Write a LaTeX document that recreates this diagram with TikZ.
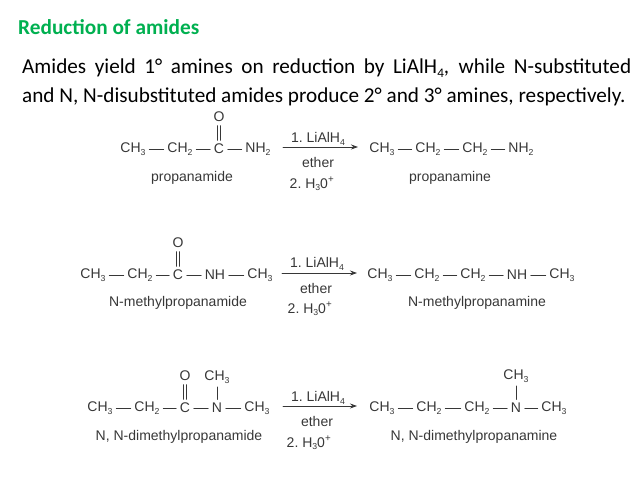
\documentclass[tikz,border=0pt]{standalone}
\usepackage{fontspec}
\usetikzlibrary{arrows.meta}
\setmainfont{Carlito}
\newfontfamily\chemfont{Liberation Sans}
\definecolor{headgreen}{RGB}{0,176,80}
\definecolor{chemgray}{RGB}{55,55,55}
\newcommand{\sbs}[1]{\raisebox{-0.35ex}{\scalebox{0.62}{#1}}}
\tikzset{
	chem/.style={font=\chemfont\fontsize{14}{16}\selectfont\frenchspacing, text=chemgray, inner sep=3.5pt, yshift=-1pt},
	bond/.style={draw=chemgray, line width=0.7pt},
	dbleft/.style={bond, transform canvas={xshift=-1.3pt}},
	dbright/.style={bond, transform canvas={xshift=1.3pt}},
	react/.style={draw=chemgray, line width=0.8pt, -{Stealth[length=7pt,width=5pt]}},
}
\begin{document}
\begin{tikzpicture}[x=1pt, y=-1pt, line cap=round, line join=round]
		\useasboundingbox (0,0) rectangle (638,478);
		\node[anchor=base west, inner sep=0pt, text=headgreen, font=\fontsize{21.3}{25}\selectfont\bfseries] (title) at (18,35) {Reduction of amides};
		\node[anchor=north west, inner sep=0pt, text width=609pt, align=justify, font=\fontsize{21.2}{29}\selectfont] (para) at (22,59) {Amides yield 1° amines on reduction by LiAlH\sbs{4}, while N-substituted\linebreak and N, N-disubstituted amides produce 2° and 3° amines, respectively.};
		% first reaction
		\node[chem] (a1) at (133,148) {CH\sbs{3}};
		\node[chem] (a2) at (180,148) {CH\sbs{2}};
		\node[chem] (a3) at (219,148) {C};
		\node[chem] (a4) at (258,148) {NH\sbs{2}};
		\node[chem] (ao) at (219,116) {O};
		\draw[bond] (a1)--(a2);
		\draw[bond] (a2)--(a3);
		\draw[bond] (a3)--(a4);
		\draw[dbleft] (ao)--(a3);
		\draw[dbright] (ao)--(a3);
		\node[chem] (an) at (192,177) {propanamide};
		\coordinate (as) at (283,147);
		\coordinate (ae) at (358,147);
		\draw[react] (as)--(ae);
		\node[chem] (al) at (318,138) {1. LiAlH\sbs{4}};
		\node[chem] (ae2) at (318,161) {ether};
		\node[chem] (ah) at (312,183) {2. H\sbs{3}0\textsuperscript{+}};
		\node[chem] (b1) at (382,148) {CH\sbs{3}};
		\node[chem] (b2) at (428,148) {CH\sbs{2}};
		\node[chem] (b3) at (475,148) {CH\sbs{2}};
		\node[chem] (b4) at (521,148) {NH\sbs{2}};
		\draw[bond] (b1)--(b2);
		\draw[bond] (b2)--(b3);
		\draw[bond] (b3)--(b4);
		\node[chem] (bn) at (450,177) {propanamine};
		% second reaction
		\node[chem] (c1) at (93,274) {CH\sbs{3}};
		\node[chem] (c2) at (140,274) {CH\sbs{2}};
		\node[chem] (c3) at (178,274) {C};
		\node[chem] (c4) at (215,274) {NH};
		\node[chem] (c5) at (260,274) {CH\sbs{3}};
		\node[chem] (co) at (178,242) {O};
		\draw[bond] (c1)--(c2);
		\draw[bond] (c2)--(c3);
		\draw[bond] (c3)--(c4);
		\draw[bond] (c4)--(c5);
		\draw[dbleft] (co)--(c3);
		\draw[dbright] (co)--(c3);
		\node[chem] (cn) at (178,302) {N-methylpropanamide};
		\coordinate (cs) at (282,273);
		\coordinate (ce) at (357,273);
		\draw[react] (cs)--(ce);
		\node[chem] (cl) at (317,263) {1. LiAlH\sbs{4}};
		\node[chem] (ce2) at (316,287) {ether};
		\node[chem] (ch) at (310,308) {2. H\sbs{3}0\textsuperscript{+}};
		\node[chem] (d1) at (380,274) {CH\sbs{3}};
		\node[chem] (d2) at (427,274) {CH\sbs{2}};
		\node[chem] (d3) at (473,274) {CH\sbs{2}};
		\node[chem] (d4) at (517,274) {NH};
		\node[chem] (d5) at (562,274) {CH\sbs{3}};
		\draw[bond] (d1)--(d2);
		\draw[bond] (d2)--(d3);
		\draw[bond] (d3)--(d4);
		\draw[bond] (d4)--(d5);
		\node[chem] (dn) at (477,302) {N-methylpropanamine};
		% third reaction
		\node[chem] (e1) at (100,407) {CH\sbs{3}};
		\node[chem] (e2) at (147,407) {CH\sbs{2}};
		\node[chem] (e3) at (185,407) {C};
		\node[chem] (e4) at (217,407) {N};
		\node[chem] (e5) at (257,407) {CH\sbs{3}};
		\node[chem] (eo) at (185,375) {O};
		\node[chem] (et) at (217,376) {CH\sbs{3}};
		\draw[bond] (e1)--(e2);
		\draw[bond] (e2)--(e3);
		\draw[bond] (e3)--(e4);
		\draw[bond] (e4)--(e5);
		\draw[bond] (et)--(e4);
		\draw[dbleft] (eo)--(e3);
		\draw[dbright] (eo)--(e3);
		\node[chem] (en) at (179,436) {N, N-dimethylpropanamide};
		\coordinate (es) at (283,406);
		\coordinate (ee) at (357,406);
		\draw[react] (es)--(ee);
		\node[chem] (el) at (318,397) {1. LiAlH\sbs{4}};
		\node[chem] (ee2) at (317,420) {ether};
		\node[chem] (eh) at (309,442) {2. H\sbs{3}0\textsuperscript{+}};
		\node[chem] (f1) at (382,407) {CH\sbs{3}};
		\node[chem] (f2) at (429,407) {CH\sbs{2}};
		\node[chem] (f3) at (477,407) {CH\sbs{2}};
		\node[chem] (f4) at (516,407) {N};
		\node[chem] (f5) at (554,407) {CH\sbs{3}};
		\node[chem] (ft) at (516,375) {CH\sbs{3}};
		\draw[bond] (f1)--(f2);
		\draw[bond] (f2)--(f3);
		\draw[bond] (f3)--(f4);
		\draw[bond] (f4)--(f5);
		\draw[bond] (ft)--(f4);
		\node[chem] (fn) at (474,436) {N, N-dimethylpropanamine};
\end{tikzpicture}
\end{document}
